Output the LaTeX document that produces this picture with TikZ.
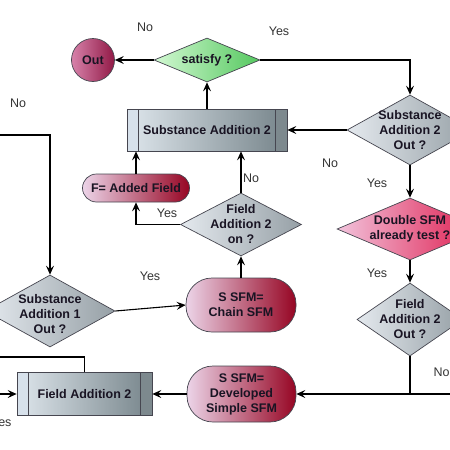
\documentclass[tikz,border=0pt]{standalone}
\usepackage{fontspec}
\setmainfont{Liberation Sans}
\usetikzlibrary{arrows.meta,shapes.geometric,calc}
\definecolor{txtc}{RGB}{25,20,35}
\definecolor{edge}{RGB}{70,70,80}
\definecolor{grayL}{RGB}{228,233,238}
\definecolor{grayR}{RGB}{150,160,166}
\definecolor{greenL}{RGB}{210,248,210}
\definecolor{greenR}{RGB}{85,200,95}
\definecolor{pinkL}{RGB}{242,195,220}
\definecolor{pinkR}{RGB}{222,25,75}
\definecolor{stadL}{RGB}{236,212,232}
\definecolor{stadR}{RGB}{150,5,35}
\definecolor{outL}{RGB}{215,130,170}
\definecolor{outR}{RGB}{145,25,70}
\definecolor{boxL}{RGB}{222,230,236}
\definecolor{boxR}{RGB}{118,132,138}
\definecolor{barL}{RGB}{215,225,235}
\definecolor{barR}{RGB}{125,137,142}
\begin{document}
\begin{tikzpicture}[x=1pt,y=-1pt,
  line width=1.1pt,
  arr/.style={-{Stealth[length=9pt,width=8pt,inset=3.5pt]}},
  txt/.style={font=\bfseries\fontsize{12.5}{15}\selectfont, text=txtc, align=center},
  lbl/.style={font=\fontsize{12.5}{15}\selectfont, text=black!80},
  shp/.style={draw=edge, line width=0.7pt, inner sep=0pt},
  gdia/.style={shp, diamond, left color=grayL, right color=grayR},
  stad/.style={shp, txt, rectangle, rounded corners=#1, left color=stadL, right color=stadR, inner sep=2pt},
  barbox/.style={shp, txt, rectangle, left color=boxL, right color=boxR,
    path picture={
      \fill[barL] (path picture bounding box.south west) rectangle ([xshift=11pt]path picture bounding box.north west);
      \fill[barR] (path picture bounding box.south east) rectangle ([xshift=-12pt]path picture bounding box.north east);
      \draw[edge, line width=0.7pt] ([xshift=11pt]path picture bounding box.south west) -- ([xshift=11pt]path picture bounding box.north west);
      \draw[edge, line width=0.7pt] ([xshift=-12pt]path picture bounding box.south east) -- ([xshift=-12pt]path picture bounding box.north east);
    }}
]
\useasboundingbox (0,0) rectangle (450,450);
\clip (0,0) rectangle (450,450);

% nodes
\node[shp, txt, circle, minimum size=43, left color=outL, right color=outR] (out) at (93,60) {Out};
\node[shp, diamond, minimum width=106, minimum height=44, left color=greenL, right color=greenR] (sat) at (207,60) {};
\node[txt] at (sat) {satisfy ?};

\node[barbox, minimum width=160, minimum height=42] (sa2b) at (207,130) {Substance Addition 2};

\node[gdia, minimum width=126, minimum height=70] (sa2o) at (410,130) {};
\node[txt] at (sa2o) {Substance\\Addition 2\\Out ?};

\node[stad=14pt, minimum width=107, minimum height=28] (fadd) at (136,188) {F= Added Field};

\node[gdia, minimum width=121, minimum height=63] (fa2on) at (241,224.5) {};
\node[txt] at (fa2on) {Field\\Addition 2\\on ?};

\node[shp, diamond, minimum width=146, minimum height=62, left color=pinkL, right color=pinkR] (dbl) at (410,229) {};
\node[txt] at (dbl) {Double SFM\\already test ?};

\node[gdia, minimum width=130, minimum height=72] (sa1o) at (50,311) {};
\node[txt] at ([yshift=-3pt]sa1o.center) {Substance\\Addition 1\\Out ?};

\node[stad=26pt, minimum width=110, minimum height=54] (chain) at (241,305) {S SFM=\\Chain SFM};

\node[gdia, minimum width=106, minimum height=73] (fa2o) at (410,319.5) {};
\node[txt] at (fa2o) {Field\\Addition 2\\Out ?};

\node[stad=26pt, minimum width=109, minimum height=56] (dev) at (241.5,394) {S SFM=\\Developed\\Simple SFM};

\node[barbox, minimum width=135, minimum height=43] (fa2b) at (84.5,394) {Field Addition 2};

% free ends
\coordinate (l1) at (0,135);
\coordinate (l2) at (0,357);
\coordinate (l3) at (0,394);
\coordinate (r1) at (450,394);

% connectors
\draw[arr] (sat.west) -- (out.east);
\draw[arr] (sat.east) -| (sa2o.north);
\draw[arr] (sa2b.north) -- (sat.south);
\draw[arr] (sa2o.west) -- (sa2b.east);
\draw[arr] (fadd.north) -- (fadd.north |- sa2b.south);
\draw[arr] (fa2on.west) -| (fadd.south);
\draw[arr] (fa2on.north) -- (fa2on.north |- sa2b.south);
\draw[arr] (sa2o.south) -- (dbl.north);
\draw[arr] (dbl.south) -- (fa2o.north);
\draw[arr] (chain.north) -- (fa2on.south);
\draw[arr] (sa1o.east) -- (chain.west);
\draw[arr] (l1) -| (sa1o.north);
\draw (fa2b.north) |- (l2);
\draw[arr] (l3) -- (fa2b.west);
\draw (fa2o.south) -- (fa2o.south |- r1);
\draw[arr] (r1) -- (dev.east);
\draw[arr] (dev.west) -- (fa2b.east);

% labels
\node[lbl] (n1) at (145,27) {No};
\node[lbl] (y1) at (279,31) {Yes};
\node[lbl] (n2) at (330,163) {No};
\node[lbl] (y2) at (377,183) {Yes};
\node[lbl] (n3) at (251,178) {No};
\node[lbl] (y3) at (377,273) {Yes};
\node[lbl] (y4) at (167,213) {Yes};
\node[lbl] (y5) at (150,276) {Yes};
\node[lbl] (n4) at (18,103) {No};
\node[lbl, anchor=east, inner sep=0pt] (y6) at (12,422) {Yes};
\node[lbl, anchor=west, inner sep=0pt] (n5) at (433,372) {No};
\end{tikzpicture}
\end{document}
